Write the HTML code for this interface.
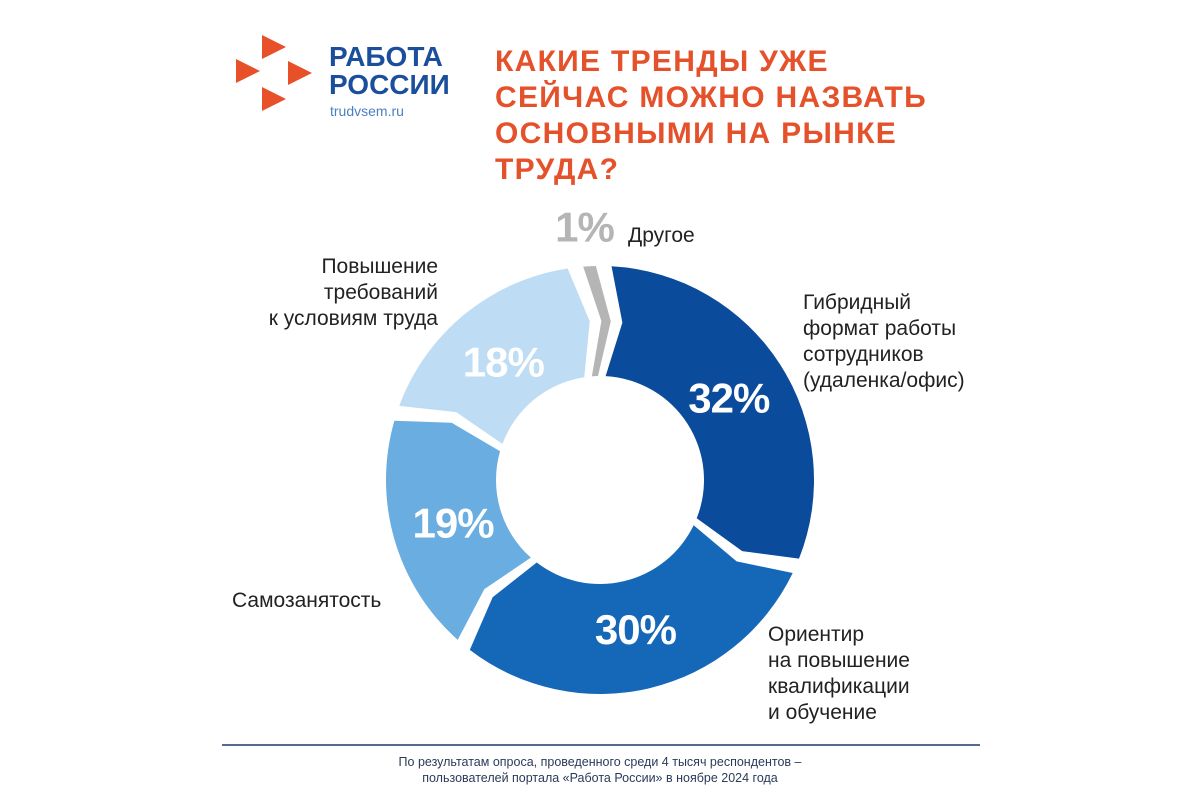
<!DOCTYPE html>
<html><head><meta charset="utf-8">
<style>
body{margin:0;width:1200px;height:800px;background:#fff;font-family:"Liberation Sans","Noto Sans CJK SC",sans-serif;position:relative;overflow:hidden}
.abs{position:absolute}
.lbl{position:absolute;font-size:21px;color:#222;line-height:26px;white-space:nowrap}
</style></head><body>
<svg class="abs" style="left:0;top:0" width="1200" height="800">
  <g fill="#e8502a">
    <polygon points="262,35 286,47 262,59"/>
    <polygon points="236,59 260,71 236,83"/>
    <polygon points="288,61 312,73 288,85"/>
    <polygon points="262,87 286,99 262,111"/>
  </g>
  <g id="donut"></g>
  <line x1="222" y1="745" x2="980" y2="745" stroke="#1f3a66" stroke-width="1.5"/>
</svg>
<div class="abs" style="left:329px;top:43px;color:#1b4f9c;font-weight:bold;font-size:28px;line-height:28px">РАБОТА<br>РОССИИ</div>
<div class="abs" style="left:330px;top:103px;color:#4b7fc0;font-size:14px">trudvsem.ru</div>
<div class="abs" style="left:495px;top:44px;color:#e4512a;font-weight:bold;font-size:30px;letter-spacing:1.3px;line-height:36px;white-space:nowrap">КАКИЕ ТРЕНДЫ УЖЕ<br>СЕЙЧАС МОЖНО НАЗВАТЬ<br>ОСНОВНЫМИ НА РЫНКЕ<br>ТРУДА?</div>
<div class="lbl" style="left:628px;top:223px">Другое</div>
<div class="lbl" style="left:803px;top:290px">Гибридный<br>формат работы<br>сотрудников<br>(удаленка/офис)</div>
<div class="lbl" style="left:768px;top:622px">Ориентир<br>на повышение<br>квалификации<br>и обучение</div>
<div class="lbl" style="left:232px;top:588px">Самозанятость</div>
<div class="lbl" style="left:238px;top:254px;text-align:right;width:200px">Повышение<br>требований<br>к условиям труда</div>
<div class="abs" style="left:300px;top:754px;width:600px;text-align:center;font-size:12.5px;line-height:16px;color:#2a3b5a">По результатам опроса, проведенного среди 4 тысяч респондентов –<br>пользователей портала «Работа России» в ноябре 2024 года</div>
<script>
const categories=["Другое","Гибридный формат","Ориентир на обучение","Самозанятость","Повышение требований"];
const values=[1,32,30,19,18];
const valueLabels=["1%","32%","30%","19%","18%"];
const colors=["#b5b5b5","#0b4b9b","#1567b8","#6aade0","#bedcf3"];
const names=["slice-other","slice-hybrid","slice-qualification","slice-selfemployment","slice-requirements"];
const cx=600,cy=480,ri=104,ro=214,gap=4.2,startA=-4.5,tip=5;
const NS="http://www.w3.org/2000/svg";
const g=document.getElementById('donut');
function pt(r,a){const t=a*Math.PI/180;return [cx+r*Math.sin(t),cy-r*Math.cos(t)];}
const total=values.reduce((s,v)=>s+v,0);
const avail=360-values.length*gap;
let a=startA;
values.forEach((v,i)=>{
  const span=v/total*avail;const a0=a,a1=a+span;const rm=(ri+ro)/2;
  const p=[pt(ro,a0),pt(ro,a1),pt(rm,a1+tip),pt(ri,a1),pt(ri,a0),pt(rm,a0+tip)];
  const large=span>180?1:0;
  const d=`M${p[0]} A${ro},${ro} 0 ${large} 1 ${p[1]} L${p[2]} L${p[3]} A${ri},${ri} 0 ${large} 0 ${p[4]} L${p[5]} Z`;
  const path=document.createElementNS(NS,'path');
  path.setAttribute('d',d);path.setAttribute('fill',colors[i]);
  
  
  g.appendChild(path);
  const t=document.createElementNS(NS,'text');
  const outside=v<5;
  const c=outside?pt(ro+40,a0+1):pt(rm-6,(a0+a1)/2);
  t.setAttribute('x',c[0]);t.setAttribute('y',c[1]+15);
  t.setAttribute('text-anchor','middle');
  t.setAttribute('font-family','Liberation Sans, sans-serif');
  t.setAttribute('font-weight','bold');t.setAttribute('font-size','42');
  t.setAttribute('letter-spacing','-1');
  t.setAttribute('fill',outside?'#b5b5b5':'#fff');
  t.textContent=valueLabels[i];
  
  
  g.appendChild(t);
  a=a1+gap;
});
</script>
</body></html>
